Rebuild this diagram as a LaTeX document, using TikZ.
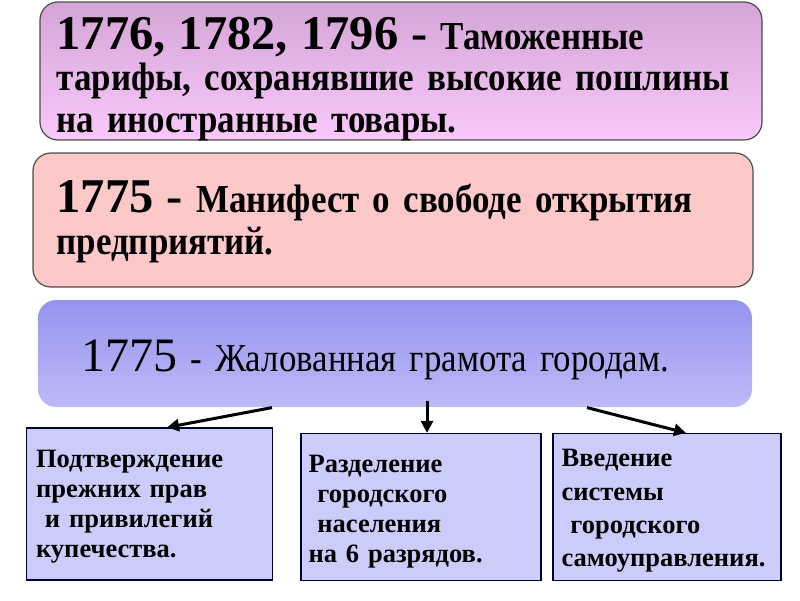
\documentclass[tikz,border=0pt]{standalone}
\usepackage{fontspec}
\setmainfont{Liberation Serif}
\newfontfamily\narrowserif{Liberation Serif}[FakeStretch=0.88,WordSpace=0.75]
\usetikzlibrary{arrows.meta}
\definecolor{tariftop}{RGB}{212,165,215}
\definecolor{tarifbot}{RGB}{250,200,250}
\definecolor{manifestfill}{RGB}{252,200,200}
\definecolor{citytop}{RGB}{148,148,240}
\definecolor{citybot}{RGB}{190,186,246}
\definecolor{subfill}{RGB}{204,204,250}

\begin{document}
\begin{tikzpicture}[x=1pt,y=-1pt,
  topbox/.style={draw=black!70,line width=1.2pt,rounded corners=18pt,inner sep=0pt},
  subbox/.style={draw=black!80!blue,line width=1.2pt,fill=subfill,inner sep=0pt,
    minimum height=147pt},
  headtext/.style={anchor=base west,align=left,inner sep=0pt},
  subtext/.style={anchor=base west,align=left,inner sep=0pt,text width=220pt},
  branch/.style={line width=3pt,-{Triangle[length=12pt,width=12pt]}}]
\useasboundingbox (0,0) rectangle (800,600);
% three upper boxes
\node[topbox,top color=tariftop,bottom color=tarifbot,
      minimum width=722pt,minimum height=138pt] (tariffs) at (401,71) {};
\node[topbox,fill=manifestfill,
      minimum width=720pt,minimum height=134pt] (manifest) at (393,220) {};
\node[topbox,draw=none,top color=citytop,bottom color=citybot,
      minimum width=714pt,minimum height=107pt] (charter) at (395,353.5) {};
\node[headtext,text width=700pt,
      font=\narrowserif\fontsize{39.7}{41.5}\selectfont\bfseries]
  (tariffs text) at ([xshift=17pt,yshift=-48pt]tariffs.north west)
  {{\rmfamily\fontsize{48.5}{50}\selectfont 1776, 1782, 1796 -} Таможенные\\
   тарифы, сохранявшие высокие пошлины\\
   на иностранные товары.};
\node[headtext,text width=690pt,
      font=\narrowserif\fontsize{39.7}{42}\selectfont\bfseries]
  (manifest text) at ([xshift=24pt,yshift=-60pt]manifest.north west)
  {{\rmfamily\fontsize{48.5}{50}\selectfont 1775 -} Манифест о свободе открытия\\
   предприятий.};
\node[headtext,text width=650pt,font=\narrowserif\fontsize{39.6}{44}\selectfont]
  (charter text) at ([xshift=44pt,yshift=-72pt]charter.north west)
  {{\rmfamily\fontsize{48}{50}\selectfont 1775} - Жалованная грамота городам.};
% lower boxes
\node[subbox,minimum width=246pt,minimum height=152pt] (privileges) at (149.5,504) {};
\node[subbox,minimum width=240pt] (population) at (421,507) {};
\node[subbox,minimum width=228pt] (selfgov) at (667,507) {};
\node[subtext,font=\fontsize{26.5}{30}\selectfont\bfseries]
  (privileges text) at ([xshift=10pt,yshift=-40pt]privileges.north west)
  {Подтверждение\\прежних прав\\\ и привилегий\\купечества.};
\node[subtext,font=\fontsize{26.5}{30}\selectfont\bfseries]
  (population text) at ([xshift=8pt,yshift=-40pt]population.north west)
  {Разделение\\\ городского\\\ населения\\на 6 разрядов.};
\node[subtext,font=\fontsize{26.5}{33.3}\selectfont\bfseries]
  (selfgov text) at ([xshift=9pt,yshift=-34pt]selfgov.north west)
  {Введение\\системы\\\ городского\\самоуправления.};
% arrows
\draw[branch] ([xshift=-123pt]charter.south) -- ([xshift=17.5pt]privileges.north);
\draw[branch] ([xshift=32pt,yshift=7pt]charter.south) -- ([xshift=6pt]population.north);
\draw[branch] ([xshift=192pt]charter.south) -- ([xshift=19pt]selfgov.north);
\end{tikzpicture}
\end{document}
